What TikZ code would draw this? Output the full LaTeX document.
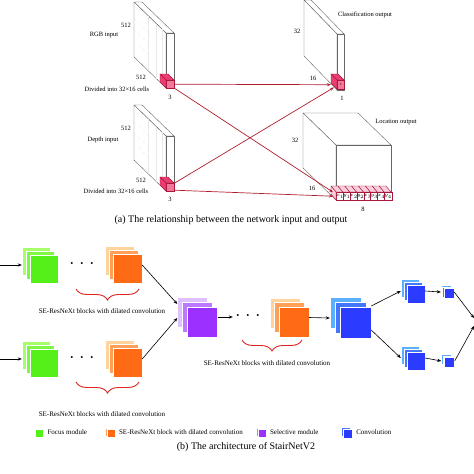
\documentclass[tikz,border=0pt]{standalone}
\usepackage{fontspec}
\setmainfont{Liberation Serif}
\usetikzlibrary{positioning,arrows.meta,decorations.pathreplacing}
\definecolor{focus}{HTML}{55F01A}
\definecolor{focusbk}{HTML}{A6FF6A}
\definecolor{seblk}{HTML}{FF6A14}
\definecolor{seblkbk}{HTML}{FFD49C}
\definecolor{selec}{HTML}{9B30FF}
\definecolor{selecbk}{HTML}{DEC0FF}
\definecolor{conv}{HTML}{2B3BFF}
\definecolor{convbk}{HTML}{5AB0FF}
\definecolor{cellred}{HTML}{EC3D72}
\definecolor{cellline}{HTML}{A8173C}
\definecolor{linkred}{HTML}{B01E2E}
\definecolor{bracered}{HTML}{E0241E}
\begin{document}
\begin{tikzpicture}[x=1pt,y=-1pt,
    rim/.style={draw=black!60,line width=0.4pt,line join=round},
    face/.style={rim,fill=white,inner sep=0pt},
    cell/.style={draw=cellline,fill=cellred!70!white,line width=0.4pt,inner sep=0pt},
    cellside/.style={draw=cellline,fill=cellred,line width=0.4pt,line join=round},
    link/.style={draw=linkred,line width=0.7pt,-{Stealth[length=4pt,width=3pt]}},
    arr/.style={draw=black,line width=0.6pt,-{Stealth[length=4pt,width=3.2pt]}},
    stack/.style={inner sep=0pt,minimum size=#1},
    layer/.style={draw=white,line width=0.4pt,inner sep=0pt,minimum size=#1},
    lbl/.style={font=\fontsize{6.5}{7}\selectfont,inner sep=1pt},
    note/.style={font=\fontsize{7}{8}\selectfont,inner sep=1pt},
    captext/.style={font=\fontsize{10}{12}\selectfont,inner sep=1pt},
    dotrow/.style={font=\fontsize{12}{12}\selectfont\bfseries,inner sep=3pt},
    brc/.style={draw=bracered,line width=0.9pt,decorate,decoration={brace,mirror,amplitude=11pt}}]
    \fill[white] (0,0) rectangle (474,474);
    \useasboundingbox (0,0) rectangle (474,474);

    \foreach \n/\x/\y/\w/\h/\dx/\dy in {rgb/166/33/8/55/32/31,dep/166/136/8/55/32/31,cls/337/34/7/56/33/34,loc/336/145/55/55/33/32}{
        \draw[rim,fill=white] (\x,\y) -- ++(-\dx,-\dy) -- ++(\w,0) -- ++(\dx,\dy) -- cycle;
        \draw[rim,fill=white] (\x,\y) -- ++(-\dx,-\dy) -- ++(0,\h) -- ++(\dx,\dy) -- cycle;
        \node[face,minimum width=\w,minimum height=\h,anchor=north west] (\n) at (\x,\y) {};
    }
    \foreach \y in {33,136}{
        \foreach \t in {0.45,0.7,0.88}
            \draw[black!9,line width=0.25pt] ({166-32*(1-\t)},{\y-31*(1-\t)}) -- ++(0,55);
        \foreach \t in {0.3,0.5,0.7}
            \draw[black!9,line width=0.25pt,dashed] (134,{\y-31+55*\t}) -- ++(14,13.5);
    }

    \foreach \n/\x/\y/\w/\h/\t in {rgbc/166/80/8/8/{},depc/166/183/8/8/{},clsc/337/80/7/9/c}{
        \draw[cellside] (\x,\y) -- ++(-6,-6) -- ++(\w,0) -- ++(6,6) -- cycle;
        \draw[cellside] (\x,\y) -- ++(-6,-6) -- ++(0,\h) -- ++(6,6) -- cycle;
        \node[cell,minimum width=\w,minimum height=\h,anchor=north west,font=\fontsize{4}{4}\selectfont] (\n) at (\x,\y) {\t};
    }
    \foreach \i/\t in {0/x_1,1/y_1,2/x_2,3/y_2,4/x_3,5/y_3,6/x_4,7/y_4}{
        \draw[cellside,fill=cellred!25!white] ({336+6.875*\i},192) -- ++(-5,-6) -- ++(6.875,0) -- ++(5,6) -- cycle;
        \node[cell,fill=white,minimum width=6.875,minimum height=8,anchor=north west,font=\fontsize{3}{3}\selectfont] (l\i) at ({336+6.875*\i},192) {$\t$};
    }
    \draw[cellside,fill=cellred!25!white] (336,192) -- ++(-5,-6) -- ++(0,8) -- ++(5,6) -- cycle;

    \node[lbl] (rgbh) at (126,25) {512};
    \node[lbl] (rgbname) at (104,35) {RGB input};
    \node[lbl] (rgbd) at (141,77) {512};
    \node[lbl] (rgbdiv) at (117,89) {Divided into 32×16 cells};
    \node[lbl] (rgbw) at (170,97) {3};
    \node[lbl] (deph) at (126,128) {512};
    \node[lbl] (depname) at (103,140) {Depth input};
    \node[lbl] (depd) at (141,180) {512};
    \node[lbl] (depdiv) at (116,191) {Divided into 32×16 cells};
    \node[lbl] (depw) at (170,199) {3};
    \node[lbl] (clsh) at (297,31) {32};
    \node[lbl] (clsname) at (365,15) {Classification output};
    \node[lbl] (clsd) at (313,78) {16};
    \node[lbl] (clsw) at (342,98) {1};
    \node[lbl] (loch) at (295,140) {32};
    \node[lbl] (locname) at (396,122) {Location output};
    \node[lbl] (locd) at (312,188) {16};
    \node[lbl] (locw) at (363,209) {8};

    \draw[link] (rgbc.east) -- ([xshift=-6pt]clsc.west);
    \draw[link] ([yshift=-4pt]rgbc.east) -- ([xshift=-3pt,yshift=4pt]l0.west);
    \draw[link] ([yshift=4pt]depc.east) -- ([xshift=-3pt,yshift=2pt]clsc.south west);
    \draw[link] ([yshift=-3pt]depc.east) -- ([xshift=-3pt]l0.west);
    \node[captext] (capa) at (231,220) {(a) The relationship between the network input and output};

    \foreach \n/\x/\y/\s/\off/\cf/\cb in {g1/40/265/28/4/focus/focusbk,o1/123.5/265/29/4/seblk/seblkbk,
        g2/40/359/28/4/focus/focusbk,o2/123.5/359/29/4/seblk/seblkbk,p1/197.5/317/30/5/selec/selecbk,
        o3/289.5/317.5/30/4.5/seblk/seblkbk,b1/350.5/318/31/5/conv/convbk,b2/413/291/18/3/conv/convbk,
        b3/447.5/292/10/1.5/conv/convbk,b4/413/358/18/3/conv/convbk,b5/448/361/10/1.5/conv/convbk,
        lg1/38/432/8/1.2/focus/focusbk,lg2/109.5/432/8/1.2/seblk/seblkbk,lg3/260.5/432/8/1.2/selec/selecbk,
        lg4/346/432/9/1.4/conv/convbk}{
        \node[stack={\s+2*\off}] (\n) at (\x,\y) {};
        \foreach \k/\m in {-1/0,0/50,1/100}
            \node[layer=\s,fill=\cf!\m!\cb] at ([shift={(\k*\off,\k*\off)}]\n.center) {};
    }
    \node[dotrow] (dt1) at (82,265) {·\hspace{6pt}·\hspace{6pt}·};
    \node[dotrow] (dt2) at (82,359) {·\hspace{6pt}·\hspace{6pt}·};
    \node[dotrow] (dm) at (248,317) {·\hspace{6pt}·\hspace{6pt}·};
    \coordinate (in1) at (0,265);
    \coordinate (in2) at (0,359);
    \coordinate (out1) at (474,318);
    \coordinate (out2) at (474,326);

    \draw[arr] (in1) -- (g1.west);
    \draw[arr] (in2) -- (g2.west);
    \draw[arr] (o1.east) -- ([yshift=13pt]p1.west);
    \draw[arr] (o2.east) -- ([yshift=-1pt]p1.west);
    \draw[arr] (p1.east) -- (dm.west);
    \draw[arr] (o3.east) -- (b1.west);
    \draw[arr] ([yshift=12pt]b1.east) -- (b2.west);
    \draw[arr] ([yshift=-12pt]b1.east) -- (b4.west);
    \draw[arr] (b2.east) -- (b3.west);
    \draw[arr] (b4.east) -- (b5.west);
    \draw[arr] (b3.east) -- (out1);
    \draw[arr] (b5.east) -- (out2);

    \draw[brc] (76,289) -- (139,289);
    \draw[brc] (76,382) -- (139,382);
    \draw[brc] (242,340) -- (302,340);
    \node[note] (lb1) at (102,311) {SE-ResNeXt blocks with dilated convolution};
    \node[note] (lb2) at (102,414) {SE-ResNeXt blocks with dilated convolution};
    \node[note] (lb3) at (267,363) {SE-ResNeXt blocks with dilated convolution};

    \node[note,right=3pt of lg1] (lt1) {Focus module};
    \node[note,right=3pt of lg2] (lt2) {SE-ResNeXt block with dilated convolution};
    \node[note,right=3pt of lg3] (lt3) {Selective module};
    \node[note,right=3pt of lg4] (lt4) {Convolution};
    \node[captext] (capb) at (246,447) {(b) The architecture of StairNetV2};
\end{tikzpicture}
\end{document}
